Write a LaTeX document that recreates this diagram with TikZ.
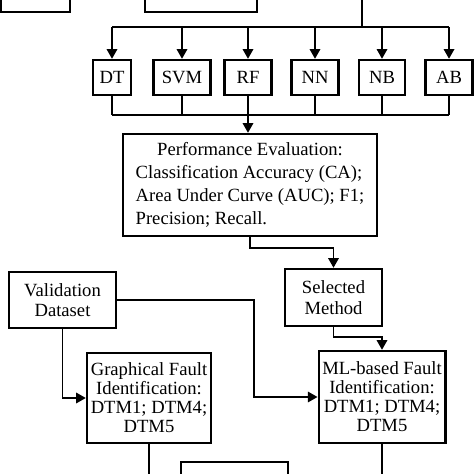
\documentclass[tikz,border=0pt]{standalone}
\usepackage{fontspec}
\setmainfont{Liberation Serif}
\usetikzlibrary{arrows.meta}

\begin{document}
\begin{tikzpicture}[line width = 0.9pt,
                        font = \fontsize{10.6}{11.6}\selectfont,
                        box/.style = {rectangle, draw, line width = 1.4pt, align = center, inner sep = 2pt},
                        tight/.style = {font = \fontsize{10.6}{10.8}\selectfont},
                        arrow/.style = {-{Triangle[length = 5.5pt, width = 6pt]}}]
      \clip (0, 0) rectangle (9.48, -9.48);

      \node [box, minimum width = 1.38cm, minimum height = 1.2cm] (data) at (0.71, 0.36){};
      \node [box, minimum width = 2.24cm, minimum height = 1.2cm] (train) at (4.02, 0.36){};

      \node [box, minimum width = 0.76cm, minimum height = 0.7cm] (dt) at (2.24, -1.55){DT};
      \node [box, minimum width = 1.14cm, minimum height = 0.7cm] (svm) at (3.64, -1.55){SVM};
      \node [box, minimum width = 0.94cm, minimum height = 0.7cm] (rf) at (4.96, -1.55){RF};
      \node [box, minimum width = 0.94cm, minimum height = 0.7cm] (nn) at (6.30, -1.55){NN};
      \node [box, minimum width = 0.92cm, minimum height = 0.7cm] (nb) at (7.64, -1.55){NB};
      \node [box, minimum width = 0.94cm, minimum height = 0.7cm] (ab) at (8.98, -1.55){AB};

      \node [box, minimum width = 5.08cm, minimum height = 2.04cm] (eval) at (5.0, -3.70)
            {\renewcommand{\arraystretch}{1.13}%
             \begin{tabular}{@{}l@{}}
             \multicolumn{1}{@{}c@{}}{Performance Evaluation:}\\
             Classification Accuracy (CA);\\
             Area Under Curve (AUC); F1;\\
             Precision; Recall.
             \end{tabular}};

      \node [box, minimum width = 1.94cm, minimum height = 1.14cm] (sel) at (6.67, -5.95){Selected\\ Method};
      \node [box, minimum width = 2.14cm, minimum height = 1.12cm] (val) at (1.25, -6.00){Validation\\ Dataset};

      \node [box, tight, minimum width = 2.48cm, minimum height = 1.80cm] (gfi) at (2.98, -7.96)
            {Graphical Fault\\ Identification:\\ DTM1; DTM4;\\ DTM5};
      \node [box, tight, minimum width = 2.48cm, minimum height = 1.84cm] (mlfi) at (7.64, -7.94)
            {ML-based Fault\\ Identification:\\ DTM1; DTM4;\\ DTM5};

      \node [box, minimum width = 2.14cm, minimum height = 1.12cm] (comp) at (4.69, -9.80){};

      \coordinate (feed) at (7.24, 0.3);
      \coordinate (split) at (7.24, -0.54);
      \coordinate (join) at (4.96, -2.30);

      \draw (feed) -- (split);
      \draw (dt.north |- split) -- (ab.north |- split);
      \draw [arrow] (dt.north |- split) -- (dt.north);
      \draw [arrow] (svm.north |- split) -- (svm.north);
      \draw [arrow] (rf.north |- split) -- (rf.north);
      \draw [arrow] (nn.north |- split) -- (nn.north);
      \draw [arrow] (nb.north |- split) -- (nb.north);
      \draw [arrow] (ab.north |- split) -- (ab.north);

      \draw (dt.south) -- (dt.south |- join);
      \draw (svm.south) -- (svm.south |- join);
      \draw (nn.south) -- (nn.south |- join);
      \draw (nb.south) -- (nb.south |- join);
      \draw (ab.south) -- (ab.south |- join);
      \draw (dt.south |- join) -- (ab.south |- join);
      \draw [arrow] (rf.south) -- (rf.south |- eval.north);

      \draw [arrow] (eval.south) -- ++(0, -0.22) -| (sel.north);
      \draw [arrow] (sel.south) -- ++(0, -0.2) -| (mlfi.north);
      \draw [arrow] (val.east) -- ++(2.74, 0) |- (mlfi.west);
      \draw [arrow] (val.south) |- (gfi.west);

      \draw (gfi.south) -- ++(0, -1);
      \draw (mlfi.south) -- ++(0, -1);
      \end{tikzpicture}
\end{document}
